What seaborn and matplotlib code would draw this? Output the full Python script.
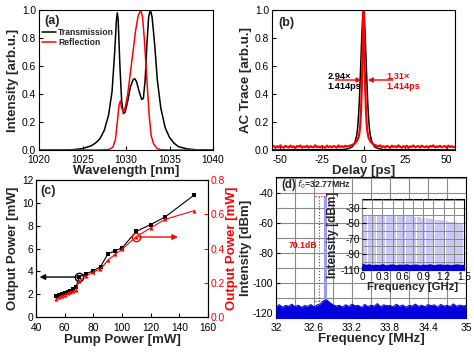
import numpy as np
import pandas as pd
import matplotlib
matplotlib.use("Agg")
import matplotlib.pyplot as plt
import seaborn as sns

sns.set_theme(style="ticks")
plt.rcParams["font.family"] = ["Liberation Sans", "DejaVu Sans"]
plt.rcParams.update({
    "xtick.direction": "in", "ytick.direction": "in",
    "xtick.major.size": 3, "ytick.major.size": 3,
    "xtick.major.width": 0.8, "ytick.major.width": 0.8,
    "axes.linewidth": 0.8, "xtick.labelsize": 7.4, "ytick.labelsize": 7.4,
    "xtick.major.pad": 2, "ytick.major.pad": 2,
    "axes.edgecolor": "black", "xtick.color": "black", "ytick.color": "black",
    "axes.unicode_minus": False,
})

# ---------------- (a) spectra ----------------
wl_trans = [1020, 1023, 1024, 1025, 1026, 1026.5, 1027, 1027.5, 1028, 1028.4, 1028.7, 1028.9,
            1029.0, 1029.1, 1029.3, 1029.5, 1029.7, 1029.9, 1030.2, 1030.5, 1030.8, 1031.0,
            1031.2, 1031.5, 1031.8, 1032.0, 1032.2, 1032.4, 1032.6, 1032.8, 1033.0, 1033.3,
            1033.6, 1034.0, 1034.5, 1035.0, 1035.5, 1036.0, 1037.0, 1038.0, 1040]
int_trans = [0.0, 0.0, 0.003, 0.01, 0.03, 0.05, 0.08, 0.14, 0.25, 0.42, 0.70, 0.93,
             0.98, 0.93, 0.60, 0.35, 0.26, 0.27, 0.35, 0.45, 0.50, 0.51,
             0.49, 0.42, 0.36, 0.37, 0.50, 0.75, 0.95, 1.00, 0.95, 0.75,
             0.50, 0.30, 0.16, 0.09, 0.05, 0.025, 0.008, 0.002, 0.0]
wl_refl = [1020, 1027, 1028, 1028.5, 1028.8, 1029.0, 1029.2, 1029.35, 1029.5, 1029.7, 1029.9,
           1030.2, 1030.5, 1030.8, 1031.1, 1031.4, 1031.7, 1031.9, 1032.1, 1032.3, 1032.5,
           1032.7, 1032.9, 1033.2, 1033.6, 1034.0, 1035.0, 1040]
int_refl = [0.0, 0.0, 0.003, 0.02, 0.08, 0.20, 0.32, 0.35, 0.30, 0.27, 0.30,
            0.40, 0.55, 0.70, 0.85, 0.96, 1.00, 0.95, 0.80, 0.60, 0.40,
            0.22, 0.10, 0.04, 0.01, 0.002, 0.0, 0.0]

# ---------------- (b) autocorrelation ----------------
delay_black = [-55, -12, -9, -7, -6, -5, -4, -3.5, -3, -2.5, -2, -1.5, -1, -0.5, 0,
               0.5, 1, 1.5, 2, 2.5, 3, 3.5, 4, 5, 6, 7, 9, 12, 55]
ac_black = [0.0, 0.003, 0.01, 0.02, 0.035, 0.06, 0.11, 0.16, 0.24, 0.35, 0.50, 0.66, 0.82, 0.95, 1.0,
            0.95, 0.82, 0.66, 0.50, 0.35, 0.24, 0.16, 0.11, 0.06, 0.035, 0.02, 0.01, 0.003, 0.0]
red_noise_left = [0.021, 0.030, 0.015, 0.027, 0.019, 0.033, 0.022, 0.016, 0.029, 0.024,
                  0.018, 0.031, 0.020, 0.026, 0.014, 0.028, 0.023, 0.032, 0.017, 0.025,
                  0.021, 0.030, 0.016, 0.027, 0.022, 0.019, 0.034, 0.020, 0.025, 0.018,
                  0.029, 0.023, 0.016, 0.031, 0.021, 0.026, 0.019, 0.028, 0.024, 0.017,
                  0.032, 0.022, 0.027, 0.020, 0.030, 0.025, 0.028, 0.031]
red_core_delay = [-7, -6, -5, -4, -3, -2.5, -2, -1.5, -1, -0.7, -0.4, -0.2, 0,
                  0.2, 0.4, 0.7, 1, 1.5, 2, 2.5, 3, 4, 5, 6, 7]
red_core = [0.035, 0.04, 0.05, 0.065, 0.09, 0.12, 0.17, 0.28, 0.45, 0.62, 0.80, 0.93, 1.0,
            0.93, 0.80, 0.62, 0.45, 0.28, 0.17, 0.12, 0.09, 0.065, 0.05, 0.04, 0.035]
red_noise_right = [0.030, 0.026, 0.033, 0.021, 0.027, 0.018, 0.029, 0.024, 0.016, 0.031,
                   0.022, 0.027, 0.019, 0.033, 0.023, 0.017, 0.028, 0.021, 0.030, 0.015,
                   0.026, 0.022, 0.032, 0.019, 0.025, 0.028, 0.017, 0.031, 0.023, 0.020,
                   0.027, 0.016, 0.029, 0.024, 0.033, 0.018, 0.026, 0.021, 0.030, 0.019,
                   0.025, 0.028, 0.017, 0.031, 0.022, 0.027, 0.020, 0.024]

# ---------------- (c) output power ----------------
pump_power = [54, 56, 58, 60, 62, 64, 66, 68, 70, 75, 80, 85, 90, 95, 100, 110, 120, 130, 150]
out_trans = [1.8, 1.9, 2.0, 2.1, 2.2, 2.3, 2.45, 2.65, 3.5, 3.8, 4.05, 4.4, 5.5, 5.8, 6.05,
             7.5, 8.1, 8.75, 10.65]
out_refl = [0.105, 0.115, 0.125, 0.13, 0.14, 0.145, 0.15, 0.157, 0.212, 0.24, 0.262, 0.28,
            0.33, 0.365, 0.395, 0.47, 0.52, 0.57, 0.62]

# ---------------- (d) RF spectrum ----------------
f0_mhz = 32.77
main_noise = [-115.8, -114.6, -116.3, -115.1, -115.6, -114.3, -116.0, -114.9, -116.4, -115.2,
              -115.7, -114.5, -116.1, -114.8, -114.0, -112.0, -111.4, -113.2, -114.7, -115.5,
              -115.0, -116.2, -114.6, -115.8, -114.2, -115.4, -115.1, -116.5, -114.4, -115.9,
              -115.0, -115.6, -113.9, -116.1, -114.7, -115.3, -115.2, -115.9, -114.3, -115.7,
              -114.8, -116.3, -115.1, -115.5, -114.2, -115.8, -114.9, -116.0, -114.5, -115.3,
              -114.7, -116.2, -114.4, -115.6, -115.0, -115.8, -114.1, -115.7, -114.9, -115.4, -115.2]
inset_noise = [-101.5, -103.2, -102.4, -103.8, -102.9, -103.5, -102.2, -103.9, -103.0, -102.6,
               -103.7, -102.8, -103.4, -102.5, -103.6, -103.1, -102.7, -103.9, -102.9, -103.3,
               -102.4, -103.8, -103.0, -102.6, -103.5, -102.8, -103.7, -103.1, -102.5, -103.4, -103.0]
harmonic_levels = [-40.0, -39.8, -40.1, -39.9, -40.0, -40.2, -39.9, -40.0, -40.1, -39.8,
                   -40.0, -40.2, -39.9, -40.1, -40.0, -39.9, -40.2, -40.0, -40.1, -40.0,
                   -40.4, -40.8, -41.3, -41.7, -42.1, -42.5, -42.9, -43.4, -43.8, -44.2,
                   -44.6, -45.0, -45.5, -45.9, -46.3, -46.7, -47.1, -47.6, -48.0, -48.4,
                   -48.8, -49.2, -49.7, -50.1, -50.5]
peak_level = -42.0
snr_db = "70.1dB"

RED = "#ff0000"
BLUE = "#0000dd"
LAV = "#c4c4f2"
LBL = dict(fontsize=9.5, fontweight="bold")

fig = plt.figure(figsize=(4.74, 3.63), dpi=100)
W, H = 474.0, 363.0


def axes_px(l, t, r, b):
    return fig.add_axes([l / W, 1 - b / H, (r - l) / W, (b - t) / H])


# ---------- (a) ----------
axa = axes_px(39, 10, 213, 150)
sns.lineplot(x=wl_trans, y=int_trans, ax=axa, color="black", lw=1.1, label="Transmission")
sns.lineplot(x=wl_refl, y=int_refl, ax=axa, color=RED, lw=1.1, label="Reflection")
axa.set_xlim(1020, 1040)
axa.set_ylim(0, 1.0)
axa.set_xticks([1020, 1025, 1030, 1035, 1040])
axa.set_yticks([0.0, 0.2, 0.4, 0.6, 0.8, 1.0])
axa.set_yticklabels(["0.0", "0.2", "0.4", "0.6", "0.8", "1.0"])
axa.tick_params(axis="x", pad=3.5)
axa.set_xlabel("Wavelength [nm]", labelpad=0, **LBL)
axa.set_ylabel("Intensity [arb.u.]", labelpad=2, **LBL)
axa.text(1020.6, 0.92, "(a)", fontsize=9, fontweight="bold", va="center")
leg = axa.legend(loc="upper left", bbox_to_anchor=(-0.01, 0.91), frameon=False,
                 prop=dict(size=6.2, weight="bold"), handlelength=1.6, handletextpad=0.2,
                 labelspacing=0.15, borderaxespad=0.2)

# ---------- (b) ----------
axb = axes_px(272, 10, 455, 150)
red_delay = (list(np.linspace(-55, -8, len(red_noise_left))) + red_core_delay
             + list(np.linspace(8, 55, len(red_noise_right))))
red_ac = red_noise_left + red_core + red_noise_right
sns.lineplot(x=delay_black, y=ac_black, ax=axb, color="black", lw=1.1)
sns.lineplot(x=red_delay, y=red_ac, ax=axb, color=RED, lw=1.6)
axb.set_xlim(-55, 55)
axb.set_ylim(0, 1.0)
axb.set_xticks([-50, -25, 0, 25, 50])
axb.set_xticklabels(["-50", "-25", "0", "25", "50"])
axb.set_yticks([0.0, 0.2, 0.4, 0.6, 0.8, 1.0])
axb.set_yticklabels(["0.0", "0.2", "0.4", "0.6", "0.8", "1.0"])
axb.tick_params(axis="x", pad=3.5)
axb.set_xlabel("Delay [ps]", labelpad=0, **LBL)
axb.set_ylabel("AC Trace [arb.u.]", labelpad=2, **LBL)
axb.text(-51, 0.91, "(b)", fontsize=9, fontweight="bold", va="center")
axb.annotate("", xy=(-1.2, 0.5), xytext=(-17, 0.5),
             arrowprops=dict(arrowstyle="-|>", color=RED, lw=1.0, mutation_scale=7,
                             shrinkA=0, shrinkB=0))
axb.annotate("", xy=(2.6, 0.5), xytext=(17.5, 0.5),
             arrowprops=dict(arrowstyle="-|>", color=RED, lw=1.0, mutation_scale=7,
                             shrinkA=0, shrinkB=0))
axb.text(-21.8, 0.49, "2.94\u00d7\n1.414ps", color="black", fontsize=6.6, fontweight="bold",
         va="center", ha="left", linespacing=1.25)
axb.text(13.8, 0.49, "1.31\u00d7\n1.414ps", color=RED, fontsize=6.6, fontweight="bold",
         va="center", ha="left", linespacing=1.25)

# ---------- (c) ----------
axc = axes_px(36, 180, 208, 317)
axc2 = axc.twinx()
sns.lineplot(x=pump_power, y=out_trans, ax=axc, color="black", lw=0.8, marker="s",
             markersize=3, markeredgewidth=0)
sns.lineplot(x=pump_power, y=out_refl, ax=axc2, color=RED, lw=0.8, marker="^",
             markersize=3, markeredgewidth=0)
axc.set_xlim(40, 160)
axc.set_ylim(0, 12)
axc2.set_ylim(0, 0.8)
axc.set_xticks([40, 60, 80, 100, 120, 140, 160])
axc.set_yticks([0, 2, 4, 6, 8, 10, 12])
axc2.set_yticks([0.0, 0.2, 0.4, 0.6, 0.8])
axc2.set_yticklabels(["0.0", "0.2", "0.4", "0.6", "0.8"])
axc2.tick_params(axis="y", colors=RED, direction="in", labelsize=7.4, pad=2)
axc2.spines["right"].set_color("black")
axc.tick_params(axis="x", pad=4)
axc.set_xlabel("Pump Power [mW]", labelpad=1, **LBL)
axc.set_ylabel("Output Power [mW]", labelpad=2, **LBL)
axc2.set_ylabel("Output Power [mW]", color=RED, labelpad=0.5, **LBL)
axc.text(43, 11.05, "(c)", fontsize=9, fontweight="bold", va="center")
axc.plot([70], [3.5], "o", mfc="none", mec="black", ms=6, mew=1.0)
axc.annotate("", xy=(42.5, 3.5), xytext=(68.5, 3.5),
             arrowprops=dict(arrowstyle="-|>", color="black", lw=1.0, mutation_scale=8,
                             shrinkA=0, shrinkB=0))
axc2.plot([110], [0.467], "o", mfc="none", mec=RED, ms=6, mew=1.0)
axc2.annotate("", xy=(139, 0.467), xytext=(111.5, 0.467),
              arrowprops=dict(arrowstyle="-|>", color=RED, lw=1.0, mutation_scale=8,
                              shrinkA=0, shrinkB=0))

# ---------- (d) ----------
axd = axes_px(276, 177, 466, 318)
freq_main = np.linspace(32, 35, len(main_noise))
axd.set_xlim(32, 35)
axd.set_ylim(-123.5, -29.5)
axd.set_xticks([32, 32.6, 33.2, 33.8, 34.4, 35])
axd.set_xticks([32.3, 32.9, 33.5, 34.1, 34.7], minor=True)
axd.set_yticks([-120, -100, -80, -60, -40])
axd.set_yticks([-110, -90, -70, -50, -30], minor=True)
axd.grid(True, which="both", color="#8a8a8a", lw=0.8)
axd.tick_params(which="minor", length=0)
axd.tick_params(axis="x", pad=3.5)
axd.set_xticklabels(["32", "32.6", "33.2", "33.8", "34.4", "35"])
axd.set_yticklabels(["-120", "-100", "-80", "-60", "-40"])
axd.vlines([f0_mhz], -123.5, peak_level, color="#9a9aee", lw=2.2, zorder=3)
axd.plot([32.68, 32.68], [-112, peak_level], ":", color=RED, lw=0.8, zorder=4)
axd.plot([32.62, 32.77], [peak_level, peak_level], ":", color=RED, lw=0.8, zorder=4)
axd.plot([32.62, 32.77], [-112, -112], ":", color=RED, lw=0.8, zorder=4)
axd.fill_between(freq_main, -130, main_noise, color=BLUE, lw=0, zorder=5)
sns.lineplot(x=freq_main, y=main_noise, ax=axd, color=BLUE, lw=0.7, zorder=5)
axd.set_xlabel("Frequency [MHz]", labelpad=0, **LBL)
axd.set_ylabel("Intensity [dBm]", labelpad=0.5, **LBL)
axd.text(32.08, -34.7, "(d)", fontsize=8.3, fontweight="bold", va="center", zorder=6)
axd.text(32.33, -34.7, r"$f_0$=32.77MHz", fontsize=6.3, fontweight="bold", va="center", zorder=6)
axd.text(32.42, -75.3, snr_db, color=RED, fontsize=6.2, fontweight="bold", ha="center",
         va="center", zorder=6)

# inset
axi = axes_px(362, 199, 464, 270)
harm_freq = f0_mhz / 1000.0 * np.arange(1, len(harmonic_levels) + 1)
axi.set_facecolor("white")
axi.vlines(harm_freq, -110.5, harmonic_levels, color=LAV, lw=1.3, zorder=2)
freq_inset = np.linspace(0, 1.5, len(inset_noise))
axi.fill_between(freq_inset, -115, inset_noise, color=BLUE, lw=0, zorder=4)
axi.set_xlim(0, 1.5)
axi.set_ylim(-110.5, -19)
axi.set_xticks([0, 0.3, 0.6, 0.9, 1.2, 1.5])
axi.set_xticks([0.15, 0.45, 0.75, 1.05, 1.35], minor=True)
axi.set_yticks([-110, -90, -70, -50, -30])
axi.set_yticks([-100, -80, -60, -40, -20], minor=True)
axi.grid(True, which="both", color="#8a8a8a", lw=0.7, zorder=3)
axi.set_axisbelow(False)
axi.tick_params(which="minor", length=0)
axi.tick_params(labelsize=7.2, pad=1.5)
axi.set_xticklabels(["0", "0.3", "0.6", "0.9", "1.2", "1.5"])
axi.set_yticklabels(["-110", "-90", "-70", "-50", "-30"])
axi.set_xlabel("Frequency [GHz]", labelpad=0, fontsize=8.2, fontweight="bold")
axi.set_ylabel("Intensity [dBm]", labelpad=1, fontsize=8.6, fontweight="bold")

fig.savefig("out.png", dpi=100)
